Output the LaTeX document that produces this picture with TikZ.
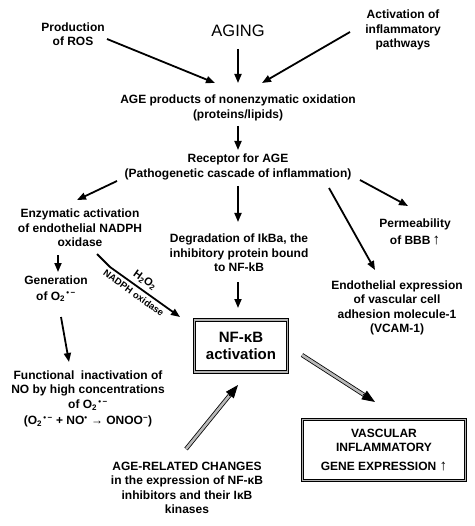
\documentclass[tikz,border=0pt]{standalone}
\usepackage{fontspec}
\setmainfont{Liberation Sans}
\usetikzlibrary{arrows.meta,calc}
\newcommand{\Osup}{O\textsubscript{2}\textsuperscript{\,•\,−}}
\begin{document}
\begin{tikzpicture}[x=1pt,y=-1pt,
  txt/.style={align=center,font=\fontsize{12}{14.5}\selectfont\bfseries,inner sep=1pt},
  arr/.style={line width=1.8pt,-{Triangle[length=9pt,width=7pt]}},
  dshaft/.style={draw=black,line width=0.8pt,double=gray!55,double distance=2.6pt},
  dhead/.style={-{Triangle[length=13pt,width=10pt]},line width=1pt},
  box/.style={draw=black,line width=1pt,double=gray!60,double distance=1.6pt,align=center,inner sep=2pt}]
\fill[white] (0,0) rectangle (474,526);
\useasboundingbox (0,0) rectangle (474,526);

\node[txt] (ros) at (73,34) {Production\\of ROS};
\node[font=\fontsize{16.5}{18}\selectfont,inner sep=1pt] (aging) at (238,31) {AGING};
\node[txt] (infl) at (403,30) {Activation of\\inflammatory\\pathways};
\node[txt] (agep) at (238,108) {AGE products of nonenzymatic oxidation\\(proteins/lipids)};
\node[txt] (rage) at (238,167) {Receptor for AGE\\(Pathogenetic cascade of inflammation)};
\node[txt] (enz) at (80,228) {Enzymatic activation\\of endothelial NADPH\\oxidase};
\node[txt,align=center] (gen) at (56,289) {Generation\\[1pt]of \Osup};
\node[txt] (func) at (88,399) {Functional\ \ inactivation of\\NO by high concentrations\\of \Osup\\[2pt](\Osup\ + NO\textsuperscript{•} → ONOO\textsuperscript{−})};
\node[txt] (degr) at (239,253) {Degradation of IkBa, the\\inhibitory protein bound\\to NF-kB};
\node[txt] (perm) at (415,232) {Permeability\\[3pt]of BBB\,{\fontsize{15}{15}\selectfont ↑}};
\node[txt] (endo) at (397,308) {Endothelial expression\\of vascular cell\\adhesion molecule-1\\(VCAM-1)};
\node[box,font=\fontsize{15}{16.5}\selectfont\bfseries,minimum width=93pt,minimum height=52pt] (nfkb) at (241,346) {NF-κB\\activation};
\node[box,font=\fontsize{12}{14.5}\selectfont\bfseries,minimum width=163pt,minimum height=61pt] (vasc) at (384,450) {VASCULAR\\INFLAMMATORY\\[4pt]GENE EXPRESSION {\fontsize{15}{15}\selectfont ↑}};
\node[txt] (agerel) at (187,488) {AGE-RELATED CHANGES\\in the expression of NF-κB\\inhibitors and their IκB\\kinases};

% arrows
\draw[arr] ([shift={(34,5)}]ros.center) -- ([shift={(-23,-25)}]agep.center);
\draw[arr] ([shift={(0,18)}]aging.center) -- ([shift={(0,-25)}]agep.center);
\draw[arr] ([shift={(-53,2)}]infl.center) -- ([shift={(24,-25)}]agep.center);
\draw[arr] ([shift={(0,18)}]agep.center) -- ([shift={(0,-17)}]rage.center);
\draw[arr] ([shift={(-121,14)}]rage.center) -- ([shift={(-3,-28)}]enz.center);
\draw[arr] ([shift={(0,19)}]rage.center) -- ([shift={(-1,-31)}]degr.center);
\draw[arr] ([shift={(91,21)}]rage.center) -- ([shift={(-22,-38)}]endo.center);
\draw[arr] ([shift={(122,13)}]rage.center) -- ([shift={(-7,-26)}]perm.center);
\draw[arr] ([shift={(-22,27)}]enz.center) -- ([shift={(2,-17)}]gen.center);
\draw[arr] ([shift={(5,28)}]gen.center) -- ([shift={(-19,-37)}]func.center);
\draw[arr] ([shift={(-1,29)}]degr.center) -- ([shift={(-3,-38)}]nfkb.center);
\draw[arr] ([shift={(17,26)}]enz.center) -- ([shift={(30,39)}]enz.center)
  -- node[pos=0.42,above,sloped,inner sep=4pt,font=\fontsize{11}{12}\selectfont\bfseries]{H\textsubscript{2}O\textsubscript{2}}
     node[pos=0.4,below,sloped,inner sep=3pt,font=\fontsize{9.5}{11}\selectfont\bfseries]{NADPH oxidase}
  ([shift={(-61,-29)}]nfkb.center);

% double arrows
\coordinate (d1s) at ([shift={(-1,-39)}]agerel.center);
\coordinate (d1e) at ([shift={(-3,39)}]nfkb.center);
\draw[dshaft,shorten >=11pt] (d1s) -- (d1e);
\draw[dhead] ($(d1e)!14pt!(d1s)$) -- (d1e);
\coordinate (d2s) at ([shift={(61,9)}]nfkb.center);
\coordinate (d2e) at ([shift={(-9,-48)}]vasc.center);
\draw[dshaft,shorten >=11pt] (d2s) -- (d2e);
\draw[dhead] ($(d2e)!14pt!(d2s)$) -- (d2e);
\end{tikzpicture}
\end{document}
